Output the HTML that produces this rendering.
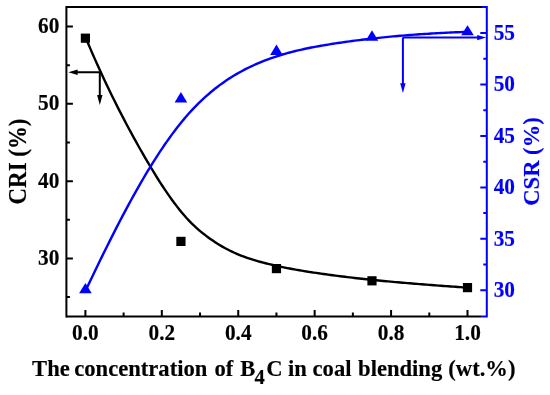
<!DOCTYPE html><html><head><meta charset="utf-8"><style>html,body{margin:0;padding:0;background:#fff;}svg{display:block;}text{font-family:"Liberation Serif","Times New Roman",serif;font-weight:bold;}</style></head><body>
<svg width="550" height="395" viewBox="0 0 550 395">
<path d="M66.4,316.5 L66.4,7.0 L481.8,7.0" fill="none" stroke="#000" stroke-width="2" stroke-linecap="square"/>
<path d="M66.4,316.5 L481.8,316.5" fill="none" stroke="#000" stroke-width="2"/>
<path d="M85.40,316.5 V310.0 M123.61,316.5 V312.5 M161.82,316.5 V310.0 M200.03,316.5 V312.5 M238.24,316.5 V310.0 M276.45,316.5 V312.5 M314.66,316.5 V310.0 M352.87,316.5 V312.5 M391.08,316.5 V310.0 M429.29,316.5 V312.5 M467.50,316.5 V310.0 M66.4,297.03 H69.9 M66.4,258.40 H72.9 M66.4,219.77 H69.9 M66.4,181.13 H72.9 M66.4,142.50 H69.9 M66.4,103.87 H72.9 M66.4,65.23 H69.9 M66.4,26.60 H72.9" stroke="#000" stroke-width="2" fill="none"/>
<path d="M481.8,7.0 H486.8 V316.5 H481.8 M486.8,290.30 H480.3 M486.8,264.57 H483.3 M486.8,238.84 H480.3 M486.8,213.11 H483.3 M486.8,187.38 H480.3 M486.8,161.65 H483.3 M486.8,135.92 H480.3 M486.8,110.19 H483.3 M486.8,84.46 H480.3 M486.8,58.73 H483.3 M486.8,33.00 H480.3" stroke="#00f" stroke-width="2" fill="none"/>
<g font-size="21.3" stroke-width="0.15">
<text transform="translate(59.4,264.80) scale(1,1.06)" text-anchor="end" stroke="#000">30</text>
<text transform="translate(59.4,187.53) scale(1,1.06)" text-anchor="end" stroke="#000">40</text>
<text transform="translate(59.4,110.27) scale(1,1.06)" text-anchor="end" stroke="#000">50</text>
<text transform="translate(59.4,33.00) scale(1,1.06)" text-anchor="end" stroke="#000">60</text>
<text transform="translate(493.7,297.10) scale(1,1.06)" fill="#00f" stroke="#00f">30</text>
<text transform="translate(493.7,245.64) scale(1,1.06)" fill="#00f" stroke="#00f">35</text>
<text transform="translate(493.7,194.18) scale(1,1.06)" fill="#00f" stroke="#00f">40</text>
<text transform="translate(493.7,142.72) scale(1,1.06)" fill="#00f" stroke="#00f">45</text>
<text transform="translate(493.7,91.26) scale(1,1.06)" fill="#00f" stroke="#00f">50</text>
<text transform="translate(493.7,39.80) scale(1,1.06)" fill="#00f" stroke="#00f">55</text>
<text transform="translate(85.40,340.1) scale(1,1.06)" text-anchor="middle" stroke="#000">0.0</text>
<text transform="translate(161.82,340.1) scale(1,1.06)" text-anchor="middle" stroke="#000">0.2</text>
<text transform="translate(238.24,340.1) scale(1,1.06)" text-anchor="middle" stroke="#000">0.4</text>
<text transform="translate(314.66,340.1) scale(1,1.06)" text-anchor="middle" stroke="#000">0.6</text>
<text transform="translate(391.08,340.1) scale(1,1.06)" text-anchor="middle" stroke="#000">0.8</text>
<text transform="translate(467.50,340.1) scale(1,1.06)" text-anchor="middle" stroke="#000">1.0</text>
</g>
<g font-size="22.6" stroke="#000" stroke-width="0.15">
<text x="32.1" y="375.7">The</text>
<text x="74.3" y="375.7">concentration</text>
<text x="214.5" y="375.7">of</text>
<text x="240.3" y="375.7">B</text>
<text x="266.2" y="375.7">C</text>
<text x="288.1" y="375.7">in</text>
<text x="312.6" y="375.7">coal</text>
<text x="358.1" y="375.7">blending</text>
<text x="448.3" y="375.7">(wt.%)</text>
<text x="254.4" y="384" font-size="20.5">4</text>
</g>
<text transform="translate(25.7,204.4) rotate(-90) scale(1,1.06)" font-size="22.9" stroke="#000" stroke-width="0.15">CRI (%)</text>
<text transform="translate(539.2,205.7) rotate(-90) scale(1,1.06)" font-size="22.6" fill="#00f" stroke="#00f" stroke-width="0.15">CSR (%)</text>
<path d="M85.40,37.05 L87.80,42.76 L90.21,48.38 L92.61,53.91 L95.01,59.37 L97.42,64.75 L99.82,70.05 L102.22,75.27 L104.63,80.42 L107.03,85.49 L109.43,90.50 L111.83,95.43 L114.24,100.30 L116.64,105.11 L119.04,109.85 L121.45,114.53 L123.85,119.15 L126.25,123.71 L128.66,128.22 L131.06,132.67 L133.46,137.07 L135.87,141.42 L138.27,145.73 L140.67,149.98 L143.08,154.19 L145.48,158.35 L147.88,162.45 L150.28,166.50 L152.69,170.48 L155.09,174.40 L157.49,178.25 L159.90,182.03 L162.30,185.73 L164.70,189.35 L167.11,192.89 L169.51,196.34 L171.91,199.70 L174.32,202.97 L176.72,206.13 L179.12,209.19 L181.53,212.15 L183.93,214.99 L186.33,217.72 L188.74,220.32 L191.14,222.80 L193.54,225.16 L195.94,227.40 L198.35,229.54 L200.75,231.58 L203.15,233.53 L205.56,235.40 L207.96,237.20 L210.36,238.93 L212.77,240.59 L215.17,242.19 L217.57,243.73 L219.98,245.20 L222.38,246.61 L224.78,247.96 L227.19,249.25 L229.59,250.48 L231.99,251.65 L234.39,252.77 L236.80,253.83 L239.20,254.84 L241.60,255.80 L244.01,256.71 L246.41,257.58 L248.81,258.41 L251.22,259.20 L253.62,259.96 L256.02,260.68 L258.43,261.37 L260.83,262.03 L263.23,262.67 L265.64,263.28 L268.04,263.87 L270.44,264.45 L272.85,265.01 L275.25,265.55 L277.65,266.08 L280.05,266.59 L282.46,267.09 L284.86,267.58 L287.26,268.06 L289.67,268.52 L292.07,268.97 L294.47,269.41 L296.88,269.84 L299.28,270.25 L301.68,270.66 L304.09,271.06 L306.49,271.45 L308.89,271.83 L311.30,272.20 L313.70,272.57 L316.10,272.93 L318.51,273.28 L320.91,273.63 L323.31,273.97 L325.71,274.31 L328.12,274.64 L330.52,274.96 L332.92,275.28 L335.33,275.60 L337.73,275.91 L340.13,276.21 L342.54,276.51 L344.94,276.81 L347.34,277.10 L349.75,277.39 L352.15,277.67 L354.55,277.95 L356.96,278.22 L359.36,278.49 L361.76,278.75 L364.16,279.01 L366.57,279.27 L368.97,279.52 L371.37,279.77 L373.78,280.02 L376.18,280.26 L378.58,280.50 L380.99,280.73 L383.39,280.97 L385.79,281.19 L388.20,281.42 L390.60,281.64 L393.00,281.86 L395.41,282.08 L397.81,282.29 L400.21,282.50 L402.62,282.71 L405.02,282.92 L407.42,283.12 L409.82,283.32 L412.23,283.52 L414.63,283.72 L417.03,283.91 L419.44,284.10 L421.84,284.29 L424.24,284.48 L426.65,284.67 L429.05,284.86 L431.45,285.04 L433.86,285.22 L436.26,285.40 L438.66,285.58 L441.07,285.76 L443.47,285.94 L445.87,286.12 L448.27,286.29 L450.68,286.47 L453.08,286.64 L455.48,286.82 L457.89,286.99 L460.29,287.16 L462.69,287.33 L465.10,287.51 L467.50,287.68" fill="none" stroke="#000" stroke-width="2.4" stroke-linejoin="round"/>
<path d="M85.50,290.84 L87.90,285.78 L90.31,280.74 L92.71,275.72 L95.11,270.72 L97.51,265.76 L99.92,260.81 L102.32,255.90 L104.72,251.02 L107.12,246.18 L109.53,241.37 L111.93,236.59 L114.33,231.86 L116.73,227.17 L119.14,222.52 L121.54,217.91 L123.94,213.35 L126.34,208.84 L128.75,204.39 L131.15,199.98 L133.55,195.62 L135.95,191.32 L138.36,187.08 L140.76,182.90 L143.16,178.77 L145.56,174.71 L147.97,170.70 L150.37,166.76 L152.77,162.89 L155.17,159.08 L157.58,155.34 L159.98,151.67 L162.38,148.07 L164.78,144.54 L167.19,141.09 L169.59,137.71 L171.99,134.41 L174.39,131.19 L176.80,128.05 L179.20,124.98 L181.60,122.00 L184.00,119.11 L186.41,116.30 L188.81,113.57 L191.21,110.93 L193.61,108.36 L196.02,105.87 L198.42,103.46 L200.82,101.12 L203.22,98.85 L205.63,96.66 L208.03,94.54 L210.43,92.48 L212.83,90.49 L215.24,88.56 L217.64,86.70 L220.04,84.90 L222.44,83.16 L224.85,81.48 L227.25,79.85 L229.65,78.28 L232.05,76.76 L234.46,75.30 L236.86,73.88 L239.26,72.51 L241.66,71.19 L244.07,69.92 L246.47,68.68 L248.87,67.49 L251.27,66.34 L253.68,65.23 L256.08,64.16 L258.48,63.12 L260.88,62.11 L263.29,61.14 L265.69,60.21 L268.09,59.31 L270.49,58.44 L272.90,57.60 L275.30,56.78 L277.70,56.00 L280.10,55.25 L282.51,54.52 L284.91,53.82 L287.31,53.15 L289.71,52.49 L292.12,51.86 L294.52,51.26 L296.92,50.67 L299.32,50.11 L301.73,49.56 L304.13,49.03 L306.53,48.52 L308.93,48.03 L311.34,47.55 L313.74,47.09 L316.14,46.64 L318.54,46.20 L320.95,45.78 L323.35,45.36 L325.75,44.96 L328.15,44.56 L330.56,44.17 L332.96,43.79 L335.36,43.42 L337.76,43.05 L340.17,42.70 L342.57,42.34 L344.97,42.00 L347.37,41.66 L349.78,41.33 L352.18,41.00 L354.58,40.68 L356.98,40.37 L359.39,40.07 L361.79,39.77 L364.19,39.47 L366.59,39.19 L369.00,38.91 L371.40,38.63 L373.80,38.36 L376.20,38.10 L378.61,37.85 L381.01,37.59 L383.41,37.35 L385.81,37.11 L388.22,36.88 L390.62,36.65 L393.02,36.42 L395.42,36.21 L397.83,35.99 L400.23,35.79 L402.63,35.59 L405.03,35.39 L407.44,35.20 L409.84,35.01 L412.24,34.83 L414.64,34.65 L417.05,34.48 L419.45,34.31 L421.85,34.15 L424.25,33.99 L426.66,33.83 L429.06,33.68 L431.46,33.53 L433.86,33.39 L436.27,33.26 L438.67,33.12 L441.07,32.99 L443.47,32.87 L445.88,32.74 L448.28,32.63 L450.68,32.51 L453.08,32.40 L455.49,32.29 L457.89,32.19 L460.29,32.09 L462.69,31.99 L465.10,31.90 L467.50,31.81" fill="none" stroke="#00f" stroke-width="2.4" stroke-linejoin="round"/>
<path d="M99.8,72.3 H76 M99.8,72.3 V96" stroke="#000" stroke-width="2" fill="none"/>
<path d="M68.4,72.3 L77.6,69.6 L77.6,75 Z" fill="#000"/>
<path d="M99.8,105 L97.1,95 L102.5,95 Z" fill="#000"/>
<path d="M402.9,37.6 H479 M402.9,37.6 V84.5" stroke="#00f" stroke-width="2" fill="none"/>
<path d="M486.2,37.6 L477.2,34.9 L477.2,40.3 Z" fill="#00f"/>
<path d="M402.9,93 L400.2,83.3 L405.6,83.3 Z" fill="#00f"/>
<rect x="80.80" y="33.59" width="9.2" height="9.2" fill="#000"/>
<rect x="176.33" y="236.80" width="9.2" height="9.2" fill="#000"/>
<rect x="271.85" y="264.00" width="9.2" height="9.2" fill="#000"/>
<rect x="367.38" y="276.21" width="9.2" height="9.2" fill="#000"/>
<rect x="462.90" y="283.01" width="9.2" height="9.2" fill="#000"/>
<path d="M85.40,283 L91.70,293.2 L79.10,293.2 Z" fill="#00f"/>
<path d="M180.93,92 L187.23,102.6 L174.62,102.6 Z" fill="#00f"/>
<path d="M276.45,44.5 L282.75,55.1 L270.15,55.1 Z" fill="#00f"/>
<path d="M371.98,30.3 L378.28,40.7 L365.68,40.7 Z" fill="#00f"/>
<path d="M467.50,25.2 L473.80,35.3 L461.20,35.3 Z" fill="#00f"/>
</svg></body></html>
